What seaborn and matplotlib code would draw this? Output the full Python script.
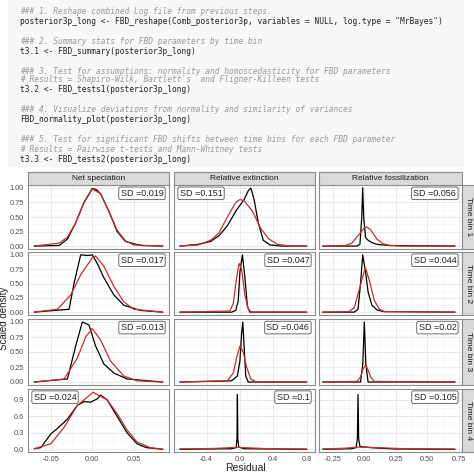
import numpy as np
import pandas as pd
import matplotlib
matplotlib.use("Agg")
import matplotlib.pyplot as plt
import seaborn as sns

sns.set_theme(style="white")
plt.rcParams['font.family'] = ['Liberation Sans', 'DejaVu Sans']

# code lines shown above the chart (text, is_comment)
code_lines = [
    ('### 1. Reshape combined Log file from previous steps.', True),
    ('posterior3p_long <- FBD_reshape(Comb_posterior3p, variables = NULL, log.type = "MrBayes")', False),
    ('### 2. Summary stats for FBD parameters by time bin', True),
    ('t3.1 <- FBD_summary(posterior3p_long)', False),
    ('### 3. Test for assumptions: normality and homoscedasticity for FBD parameters', True),
    ("# Results = Shapiro-Wilk, Bartlett's  and Fligner-Killeen tests", True),
    ('t3.2 <- FBD_tests1(posterior3p_long)', False),
    ('### 4. Visualize deviations from normality and similarity of variances', True),
    ('FBD_normality_plot(posterior3p_long)', False),
    ('### 5. Test for significant FBD shifts between time bins for each FBD parameter', True),
    ('# Results = Pairwise t-tests and Mann-Whitney tests', True),
    ('t3.3 <- FBD_tests2(posterior3p_long)', False),
]
code_y = [12, 21, 41, 51, 71, 80, 90, 110, 120, 140, 150, 160]

params = ['Net speciation', 'Relative extinction', 'Relative fossilization']
bins = ['Time bin 1', 'Time bin 2', 'Time bin 3', 'Time bin 4']

# SD labels per (bin, param) and whether the label sits on the left
sd_text = [['0.019', '0.151', '0.056'],
           ['0.017', '0.047', '0.044'],
           ['0.013', '0.046', '0.02'],
           ['0.024', '0.1', '0.105']]
sd_left = [[False, True, False],
           [False, False, False],
           [False, False, False],
           [True, False, False]]

black = {
    (0, 0): ([-0.07, -0.04, -0.03, -0.02, -0.01, 0.0, 0.005, 0.01, 0.02, 0.03, 0.04, 0.05, 0.06, 0.085],
             [0, 0.01, 0.12, 0.4, 0.75, 0.99, 0.97, 0.9, 0.6, 0.25, 0.08, 0.04, 0.01, 0]),
    (0, 1): ([-0.72, -0.5, -0.35, -0.25, -0.15, -0.05, 0.05, 0.1, 0.13, 0.17, 0.22, 0.28, 0.36, 0.5, 0.8],
             [0, 0.03, 0.08, 0.18, 0.35, 0.6, 0.8, 0.95, 1.0, 0.8, 0.4, 0.1, 0.02, 0, 0]),
    (0, 2): ([-0.33, -0.06, -0.035, -0.02, -0.013, -0.005, 0.01, 0.03, 0.06, 0.1, 0.2, 0.72],
             [0, 0, 0.03, 0.5, 1.0, 0.5, 0.15, 0.1, 0.06, 0.03, 0.01, 0]),
    (1, 0): ([-0.07, -0.028, -0.022, -0.014, -0.005, 0.0, 0.006, 0.014, 0.026, 0.038, 0.058, 0.085],
             [0, 0.05, 0.5, 1.0, 0.99, 1.0, 0.85, 0.6, 0.3, 0.12, 0.03, 0]),
    (1, 1): ([-0.72, -0.1, -0.05, -0.02, 0.0, 0.03, 0.06, 0.09, 0.12, 0.8],
             [0, 0, 0.03, 0.2, 0.7, 1.0, 0.6, 0.1, 0, 0]),
    (1, 2): ([-0.33, -0.08, -0.05, -0.03, -0.013, 0.01, 0.03, 0.06, 0.1, 0.15, 0.72],
             [0, 0, 0.05, 0.5, 1.0, 0.7, 0.35, 0.12, 0.04, 0.01, 0]),
    (2, 0): ([-0.07, -0.03, -0.02, -0.012, -0.004, 0.004, 0.014, 0.026, 0.042, 0.085],
             [0, 0.05, 0.6, 1.0, 0.95, 0.6, 0.3, 0.15, 0.05, 0]),
    (2, 1): ([-0.72, -0.1, -0.03, 0.0, 0.02, 0.035, 0.05, 0.07, 0.1, 0.8],
             [0, 0.02, 0.1, 0.35, 0.8, 1.0, 0.6, 0.1, 0, 0]),
    (2, 2): ([-0.33, -0.03, -0.012, 0.0, 0.012, 0.03, 0.72],
             [0, 0, 0.3, 1.0, 0.3, 0, 0]),
    (3, 0): ([-0.07, -0.062, -0.05, -0.042, -0.03, -0.018, -0.01, -0.002, 0.006, 0.01, 0.018, 0.03, 0.042, 0.054, 0.065, 0.085],
             [0.01, 0.03, 0.28, 0.38, 0.55, 0.8, 0.87, 0.86, 0.92, 0.99, 0.9, 0.6, 0.3, 0.1, 0.03, 0]),
    (3, 1): ([-0.72, -0.1, -0.045, -0.035, -0.03, -0.025, -0.015, 0.05, 0.8],
             [0, 0.01, 0.03, 0.2, 1.0, 0.2, 0.04, 0.01, 0]),
    (3, 2): ([-0.33, -0.1, -0.065, -0.055, -0.05, -0.045, -0.035, 0.05, 0.12, 0.25, 0.72],
             [0, 0.01, 0.03, 0.2, 1.0, 0.2, 0.05, 0.03, 0.02, 0.005, 0]),
}
red = {
    (0, 0): ([-0.07, -0.04, -0.03, -0.02, -0.01, 0.0, 0.01, 0.02, 0.03, 0.04, 0.05, 0.085],
             [0, 0.05, 0.15, 0.4, 0.75, 0.98, 0.9, 0.6, 0.27, 0.09, 0.02, 0]),
    (0, 1): ([-0.72, -0.5, -0.35, -0.25, -0.15, -0.05, 0.0, 0.05, 0.15, 0.25, 0.35, 0.45, 0.6, 0.8],
             [0, 0.02, 0.1, 0.23, 0.5, 0.75, 0.8, 0.78, 0.6, 0.3, 0.12, 0.03, 0, 0]),
    (0, 2): ([-0.33, -0.15, -0.1, -0.05, 0.0, 0.02, 0.05, 0.1, 0.15, 0.2, 0.3, 0.72],
             [0, 0.01, 0.05, 0.18, 0.31, 0.33, 0.28, 0.12, 0.04, 0.01, 0, 0]),
    (1, 0): ([-0.07, -0.042, -0.026, -0.014, 0.0, 0.004, 0.014, 0.026, 0.038, 0.05, 0.085],
             [0, 0.05, 0.3, 0.65, 0.95, 0.98, 0.8, 0.45, 0.18, 0.05, 0]),
    (1, 1): ([-0.72, -0.12, -0.08, -0.04, -0.01, 0.02, 0.06, 0.1, 0.14, 0.8],
             [0, 0.02, 0.15, 0.6, 0.85, 0.75, 0.3, 0.05, 0, 0]),
    (1, 2): ([-0.33, -0.12, -0.08, -0.04, 0.0, 0.013, 0.04, 0.08, 0.12, 0.16, 0.72],
             [0, 0.01, 0.08, 0.4, 0.72, 0.75, 0.55, 0.2, 0.05, 0.01, 0]),
    (2, 0): ([-0.07, -0.034, -0.018, -0.008, 0.0, 0.01, 0.022, 0.038, 0.054, 0.085],
             [0, 0.05, 0.4, 0.75, 0.89, 0.7, 0.35, 0.1, 0.02, 0]),
    (2, 1): ([-0.72, -0.15, -0.08, -0.04, 0.0, 0.04, 0.08, 0.13, 0.2, 0.8],
             [0, 0.02, 0.15, 0.4, 0.6, 0.5, 0.25, 0.05, 0, 0]),
    (2, 2): ([-0.33, -0.06, -0.03, -0.01, 0.01, 0.03, 0.05, 0.08, 0.72],
             [0, 0.01, 0.08, 0.22, 0.28, 0.2, 0.08, 0.01, 0]),
    (3, 0): ([-0.07, -0.05, -0.034, -0.018, 0.001, 0.018, 0.03, 0.042, 0.054, 0.07, 0.085],
             [0.01, 0.1, 0.4, 0.8, 1.04, 0.9, 0.65, 0.35, 0.13, 0.03, 0]),
    (3, 1): ([-0.72, -0.3, -0.1, -0.03, 0.05, 0.3, 0.8],
             [0.005, 0.015, 0.03, 0.035, 0.03, 0.012, 0.003]),
    (3, 2): ([-0.33, -0.15, -0.05, 0.1, 0.3, 0.72],
             [0.005, 0.02, 0.04, 0.03, 0.012, 0.003]),
}

col_xlim = [(-0.0775, 0.0925), (-0.79, 0.9), (-0.36, 0.776)]
col_ticks = [[-0.05, 0.0, 0.05], [-0.4, 0.0, 0.4, 0.8], [-0.25, 0.0, 0.25, 0.5, 0.75]]
col_ticklabels = [['-0.05', '0.00', '0.05'], ['-0.4', '0.0', '0.4', '0.8'],
                  ['-0.25', '0.00', '0.25', '0.50', '0.75']]
row_yticks = [[0, 0.25, 0.5, 0.75, 1.0]] * 3 + [[0, 0.3, 0.6, 0.9]]
row_yticklabels = [['0.00', '0.25', '0.50', '0.75', '1.00']] * 3 + [['0.0', '0.3', '0.6', '0.9']]
row_ylim = [(-0.05, 1.05)] * 3 + [(-0.05, 1.1)]

W = H = 474
fig = plt.figure(figsize=(4.74, 4.74), dpi=100)


def rect(l, t, r, b):
    return [l / W, 1 - b / H, (r - l) / W, (b - t) / H]


# code block
bg = fig.add_axes(rect(8, 0, 464, 167))
bg.set_facecolor('#f7f7f7')
bg.set_xticks([]); bg.set_yticks([])
for s in bg.spines.values():
    s.set_visible(False)
for (txt, comment), y in zip(code_lines, code_y):
    fig.text(20 / W, 1 - y / H, txt, family='DejaVu Sans Mono', fontsize=5.7,
             style='italic' if comment else 'normal',
             color='#9a9a9a' if comment else '#222222', va='center', ha='left')

col_px = [(28, 169), (174, 315), (319, 462)]
row_px = [(185, 249), (252, 315), (319, 385), (389, 452)]

for r, (t, b) in enumerate(row_px):
    for c, (l, rr) in enumerate(col_px):
        ax = fig.add_axes(rect(l, t, rr, b))
        bx, by = black[(r, c)]
        rx, ry = red[(r, c)]
        df = pd.concat([pd.DataFrame({'x': bx, 'y': by, 'kind': 'emp'}),
                        pd.DataFrame({'x': rx, 'y': ry, 'kind': 'norm'})])
        sns.lineplot(data=df, x='x', y='y', hue='kind', palette={'emp': 'black', 'norm': '#c62d2d'},
                     sort=False, linewidth=0.9, legend=False, ax=ax)
        ax.set_xlim(col_xlim[c]); ax.set_ylim(row_ylim[r])
        xt = col_ticks[c]; yt = row_yticks[r]
        ax.set_xticks(xt); ax.set_yticks(yt)
        ax.set_xticks([(a + b2) / 2 for a, b2 in zip(xt[:-1], xt[1:])], minor=True)
        ax.set_yticks([(a + b2) / 2 for a, b2 in zip(yt[:-1], yt[1:])], minor=True)
        ax.grid(True, which='major', color='#e6e6e6', linewidth=0.6)
        ax.grid(True, which='minor', color='#f2f2f2', linewidth=0.4)
        ax.set_axisbelow(True)
        ax.set_xlabel(''); ax.set_ylabel('')
        ax.tick_params(which='both', length=2, width=0.5, labelsize=5.3, colors='#4d4d4d', pad=1)
        ax.tick_params(which='minor', length=0)
        if r == 3:
            ax.set_xticklabels(col_ticklabels[c])
        else:
            ax.set_xticklabels([])
        if c == 0:
            ax.set_yticklabels(row_yticklabels[r])
        else:
            ax.set_yticklabels([])
        for s in ax.spines.values():
            s.set_color('#8c8c8c'); s.set_linewidth(0.8)
        left = sd_left[r][c]
        ax.text(0.04 if left else 0.96, 0.87, 'SD =' + sd_text[r][c], transform=ax.transAxes,
                ha='left' if left else 'right', va='center', fontsize=6.5, color='#222222',
                bbox=dict(boxstyle='round,pad=0.2', fc='white', ec='#555555', lw=0.6))

# strips
for c, (l, rr) in enumerate(col_px):
    s = fig.add_axes(rect(l, 172, rr, 185))
    s.set_facecolor('#d9d9d9'); s.set_xticks([]); s.set_yticks([])
    for sp in s.spines.values():
        sp.set_color('#8c8c8c'); sp.set_linewidth(0.8)
    s.text(0.5, 0.5, params[c], ha='center', va='center', fontsize=6, color='#1a1a1a', transform=s.transAxes)
for r, (t, b) in enumerate(row_px):
    s = fig.add_axes(rect(462, t, 476, b))
    s.set_facecolor('#d9d9d9'); s.set_xticks([]); s.set_yticks([])
    for sp in s.spines.values():
        sp.set_color('#8c8c8c'); sp.set_linewidth(0.8)
    s.text(0.45, 0.5, bins[r], ha='center', va='center', rotation=-90, fontsize=6, color='#1a1a1a',
           transform=s.transAxes)

fig.text(4 / W, 1 - 318 / H, 'Scaled density', rotation=90, ha='center', va='center', fontsize=7, color='#222222')
fig.text(245 / W, 1 - 468 / H, 'Residual', ha='center', va='center', fontsize=7.5, color='#222222')

fig.savefig('out.png', dpi=100)
